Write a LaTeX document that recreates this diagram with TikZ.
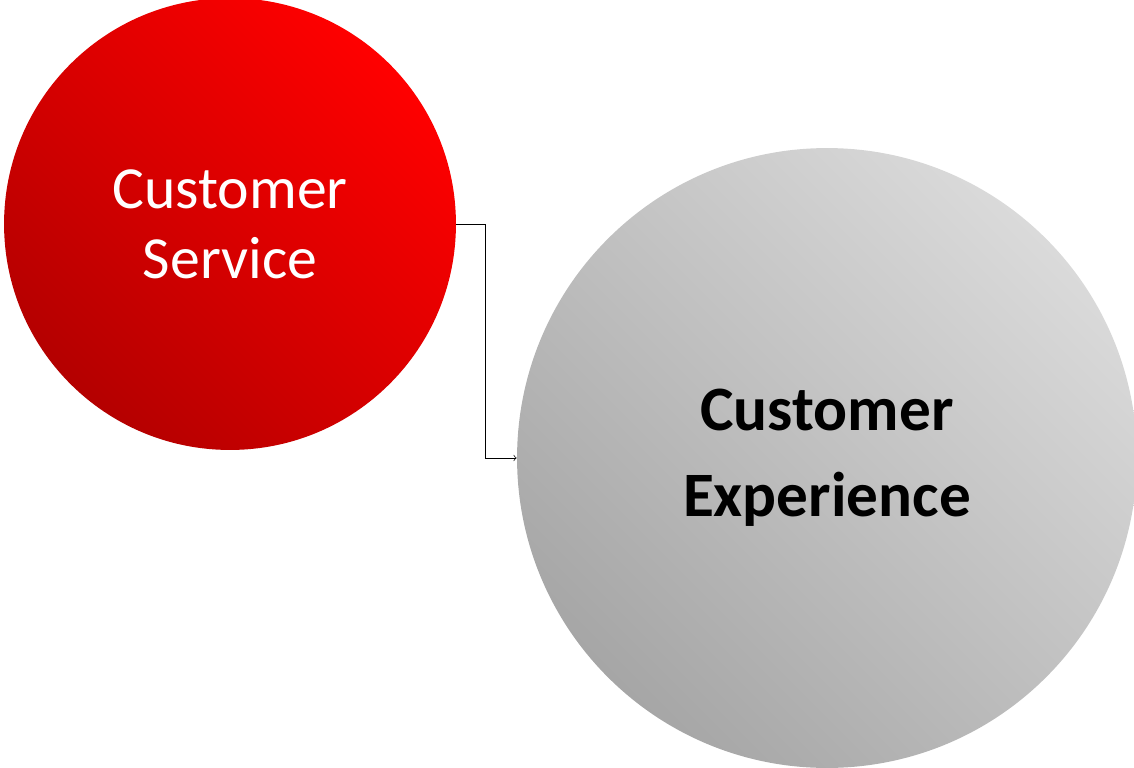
\documentclass[tikz,border=0pt]{standalone}
\usepackage{fontspec}
\setmainfont{Carlito}
\usetikzlibrary{positioning}
\definecolor{darkred}{RGB}{180,0,0}
\definecolor{brightred}{RGB}{255,0,0}
\definecolor{darkgray}{RGB}{166,166,166}
\definecolor{lightgray}{RGB}{218,218,218}
\tikzset{
  redball/.style={circle,minimum size=9.04cm,inner sep=0pt,
    left color=darkred,right color=brightred,shading angle=135,
    text=white,align=center,font=\fontsize{34}{40}\selectfont},
  grayball/.style={circle,minimum size=12.4cm,inner sep=0pt,
    left color=darkgray,right color=lightgray,shading angle=135,
    text=black,align=center,font=\bfseries\fontsize{36}{49}\selectfont}
}
\begin{document}
\begin{tikzpicture}[x=0.02cm,y=-0.02cm]
  \useasboundingbox (0,0) rectangle (1134,768);
  % circles
  \node[redball] (service) at (230,224) {Customer\\Service};
  \node[grayball] (experience) at (827,458) {Customer\\Experience};
  % connector
  \draw[->,thin] (service.east) -- ++(29,0) |- (experience.west);
\end{tikzpicture}
\end{document}
